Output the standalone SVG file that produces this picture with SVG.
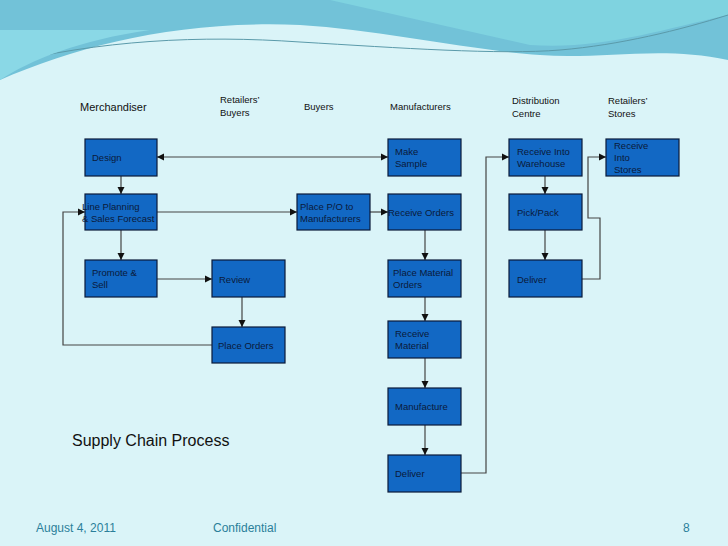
<svg xmlns="http://www.w3.org/2000/svg" width="728" height="546" viewBox="0 0 728 546">
<defs>
<marker id="ah" viewBox="0 0 10 10" refX="10" refY="5" markerWidth="6" markerHeight="6" orient="auto-start-reverse"><path d="M0,0 L10,5 L0,10 z" fill="#111"/></marker>
<style>
.b{fill:#1268c4;stroke:#0a1a3a;stroke-width:1.2}
.t{font-family:"Liberation Sans",Arial,sans-serif;font-size:9.5px;fill:#0a1a3a}
.h{font-family:"Liberation Sans",Arial,sans-serif;font-size:9.5px;fill:#111}
.c{fill:none;stroke:#444;stroke-width:1.2}
.f{font-family:"Liberation Sans",Arial,sans-serif;font-size:12px;fill:#2a7f9a}
</style>
</defs>
<rect width="728" height="546" fill="#daf4f8"/>
<path d="M0,0 H728 V60 C660,45 600,60 540,55 C470,50 380,30 300,25 C180,20 80,45 0,80 Z" fill="#72c2d8"/>
<path d="M330,0 H728 V15 C660,30 600,50 530,45 Z" fill="#7fd3e0"/>
<path d="M0,65 C100,40 200,35 300,42 C400,48 500,55 560,50 C620,45 680,30 728,15" fill="none" stroke="#5a9aaa" stroke-width="1"/>
<path d="M0,80 C30,60 80,40 150,30 L0,30 Z" fill="#8ad8e6"/>
<g class="h">
<text x="80" y="111" font-size="11px">Merchandiser</text>
<text x="220" y="103">Retailers’</text><text x="220" y="116">Buyers</text>
<text x="304" y="110">Buyers</text>
<text x="390" y="110">Manufacturers</text>
<text x="512" y="104">Distribution</text><text x="512" y="117">Centre</text>
<text x="608" y="104">Retailers’</text><text x="608" y="117">Stores</text>
</g>
<g id="connectors">
<line class="c" x1="157" y1="157" x2="388" y2="157" marker-start="url(#ah)" marker-end="url(#ah)"/>
<line class="c" x1="121" y1="176" x2="121" y2="194" marker-end="url(#ah)"/>
<line class="c" x1="157" y1="212" x2="297" y2="212" marker-end="url(#ah)"/>
<line class="c" x1="370" y1="212" x2="388" y2="212" marker-end="url(#ah)"/>
<line class="c" x1="121" y1="230" x2="121" y2="260" marker-end="url(#ah)"/>
<line class="c" x1="157" y1="279" x2="212" y2="279" marker-end="url(#ah)"/>
<line class="c" x1="242" y1="297" x2="242" y2="327" marker-end="url(#ah)"/>
<polyline class="c" points="212,345 63,345 63,212 85,212" marker-end="url(#ah)"/>
<line class="c" x1="425" y1="230" x2="425" y2="260" marker-end="url(#ah)"/>
<line class="c" x1="425" y1="297" x2="425" y2="321" marker-end="url(#ah)"/>
<line class="c" x1="425" y1="358" x2="425" y2="388" marker-end="url(#ah)"/>
<line class="c" x1="425" y1="425" x2="425" y2="455" marker-end="url(#ah)"/>
<polyline class="c" points="461,473 486,473 486,157 509,157" marker-end="url(#ah)"/>
<line class="c" x1="545" y1="176" x2="545" y2="194" marker-end="url(#ah)"/>
<line class="c" x1="545" y1="230" x2="545" y2="260" marker-end="url(#ah)"/>
<polyline class="c" points="582,279 600,279 600,218 588,218 588,157 606,157" marker-end="url(#ah)"/>
</g>
<g id="design"><rect class="b" x="85" y="139" width="72" height="37"/><text class="t" x="92" y="161">Design</text></g>
<g id="lineplanning"><rect class="b" x="85" y="194" width="72" height="36"/><text class="t" x="82" y="210">Line Planning</text><text class="t" x="82" y="222">&amp; Sales Forecast</text></g>
<g id="promote"><rect class="b" x="85" y="260" width="72" height="37"/><text class="t" x="92" y="276">Promote &amp;</text><text class="t" x="92" y="288">Sell</text></g>
<g id="review"><rect class="b" x="212" y="260" width="73" height="37"/><text class="t" x="219" y="283">Review</text></g>
<g id="placeorders"><rect class="b" x="212" y="327" width="73" height="36"/><text class="t" x="218" y="349">Place Orders</text></g>
<g id="placepo"><rect class="b" x="297" y="194" width="73" height="36"/><text class="t" x="300" y="210">Place P/O to</text><text class="t" x="300" y="222">Manufacturers</text></g>
<g id="makesample"><rect class="b" x="388" y="139" width="73" height="37"/><text class="t" x="395" y="155">Make</text><text class="t" x="395" y="167">Sample</text></g>
<g id="receiveorders"><rect class="b" x="388" y="194" width="73" height="36"/><text class="t" x="388" y="216">Receive Orders</text></g>
<g id="placematerial"><rect class="b" x="388" y="260" width="73" height="37"/><text class="t" x="393" y="276">Place Material</text><text class="t" x="393" y="288">Orders</text></g>
<g id="receivematerial"><rect class="b" x="388" y="321" width="73" height="37"/><text class="t" x="395" y="337">Receive</text><text class="t" x="395" y="349">Material</text></g>
<g id="manufacture"><rect class="b" x="388" y="388" width="73" height="37"/><text class="t" x="395" y="410">Manufacture</text></g>
<g id="deliver1"><rect class="b" x="388" y="455" width="73" height="37"/><text class="t" x="395" y="477">Deliver</text></g>
<g id="warehouse"><rect class="b" x="509" y="139" width="73" height="37"/><text class="t" x="517" y="155">Receive Into</text><text class="t" x="517" y="167">Warehouse</text></g>
<g id="pickpack"><rect class="b" x="509" y="194" width="73" height="36"/><text class="t" x="517" y="216">Pick/Pack</text></g>
<g id="deliver2"><rect class="b" x="509" y="260" width="73" height="37"/><text class="t" x="517" y="283">Deliver</text></g>
<g id="stores"><rect class="b" x="606" y="139" width="73" height="37"/><text class="t" x="614" y="149">Receive</text><text class="t" x="614" y="161">Into</text><text class="t" x="614" y="173">Stores</text></g>
<text x="72" y="446" font-family="Liberation Sans,Arial,sans-serif" font-size="16" fill="#111">Supply Chain Process</text>
<text class="f" x="36" y="532">August 4, 2011</text>
<text class="f" x="213" y="532">Confidential</text>
<text class="f" x="683" y="532">8</text>
</svg>
